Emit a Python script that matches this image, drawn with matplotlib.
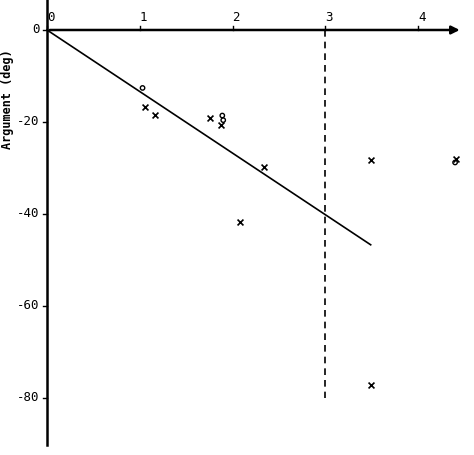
import matplotlib.pyplot as plt

cross_x = [1.06, 1.16, 1.76, 1.88, 2.34, 2.08, 3.49, 3.49, 4.41]
cross_y = [-16.7, -18.5, -19.1, -20.6, -29.8, -41.7, -28.3, -77.2, -28.0]
circle_x = [1.03, 1.89, 1.90, 4.40]
circle_y = [-12.6, -18.6, -19.6, -28.8]
line_x = [0, 3.49]
line_y = [0, -46.7]
x_ticks = [0, 1, 2, 3, 4]
y_ticks = [0, -20, -40, -60, -80]

fig = plt.figure(figsize=(4.74, 4.55), dpi=100)
ax = fig.add_axes([0, 0, 1, 1])
ax.set_xlim(-0.507, 4.604)
ax.set_ylim(-92.4, 6.52)
ax.axis("off")

# axes drawn by hand, like the scanned figure
ax.annotate("", xy=(4.48, 0), xytext=(0, 0),
            arrowprops=dict(arrowstyle="-|>", color="black", lw=1.8, mutation_scale=12))
ax.plot([0, 0], [6.52, -90.2], color="black", lw=1.8)
for t in x_ticks:
    ax.plot([t, t], [0, 0.8], color="black", lw=1)
    ax.text(t + 0.04, 1.2, str(t), ha="center", va="bottom", fontsize=9, family="DejaVu Sans Mono")
for t in y_ticks:
    ax.plot([0, -0.04], [t, t], color="black", lw=1)
    ax.text(-0.08, t, str(t), ha="right", va="center", fontsize=9, family="DejaVu Sans Mono")
ax.text(-0.43, -15, "Argument (deg)", rotation=90, ha="center", va="center",
        fontsize=8.5, family="DejaVu Sans Mono", fontweight="bold")

ax.plot(line_x, line_y, color="black", lw=1.2)
ax.plot([3, 3], [0, -80], color="black", lw=1.2, linestyle=(0, (4, 3)))
ax.scatter(cross_x, cross_y, marker="x", color="black", s=18, linewidths=1.2)
ax.scatter(circle_x, circle_y, marker="o", facecolors="none", edgecolors="black", s=10, linewidths=1)

fig.savefig("out.png", dpi=100)
